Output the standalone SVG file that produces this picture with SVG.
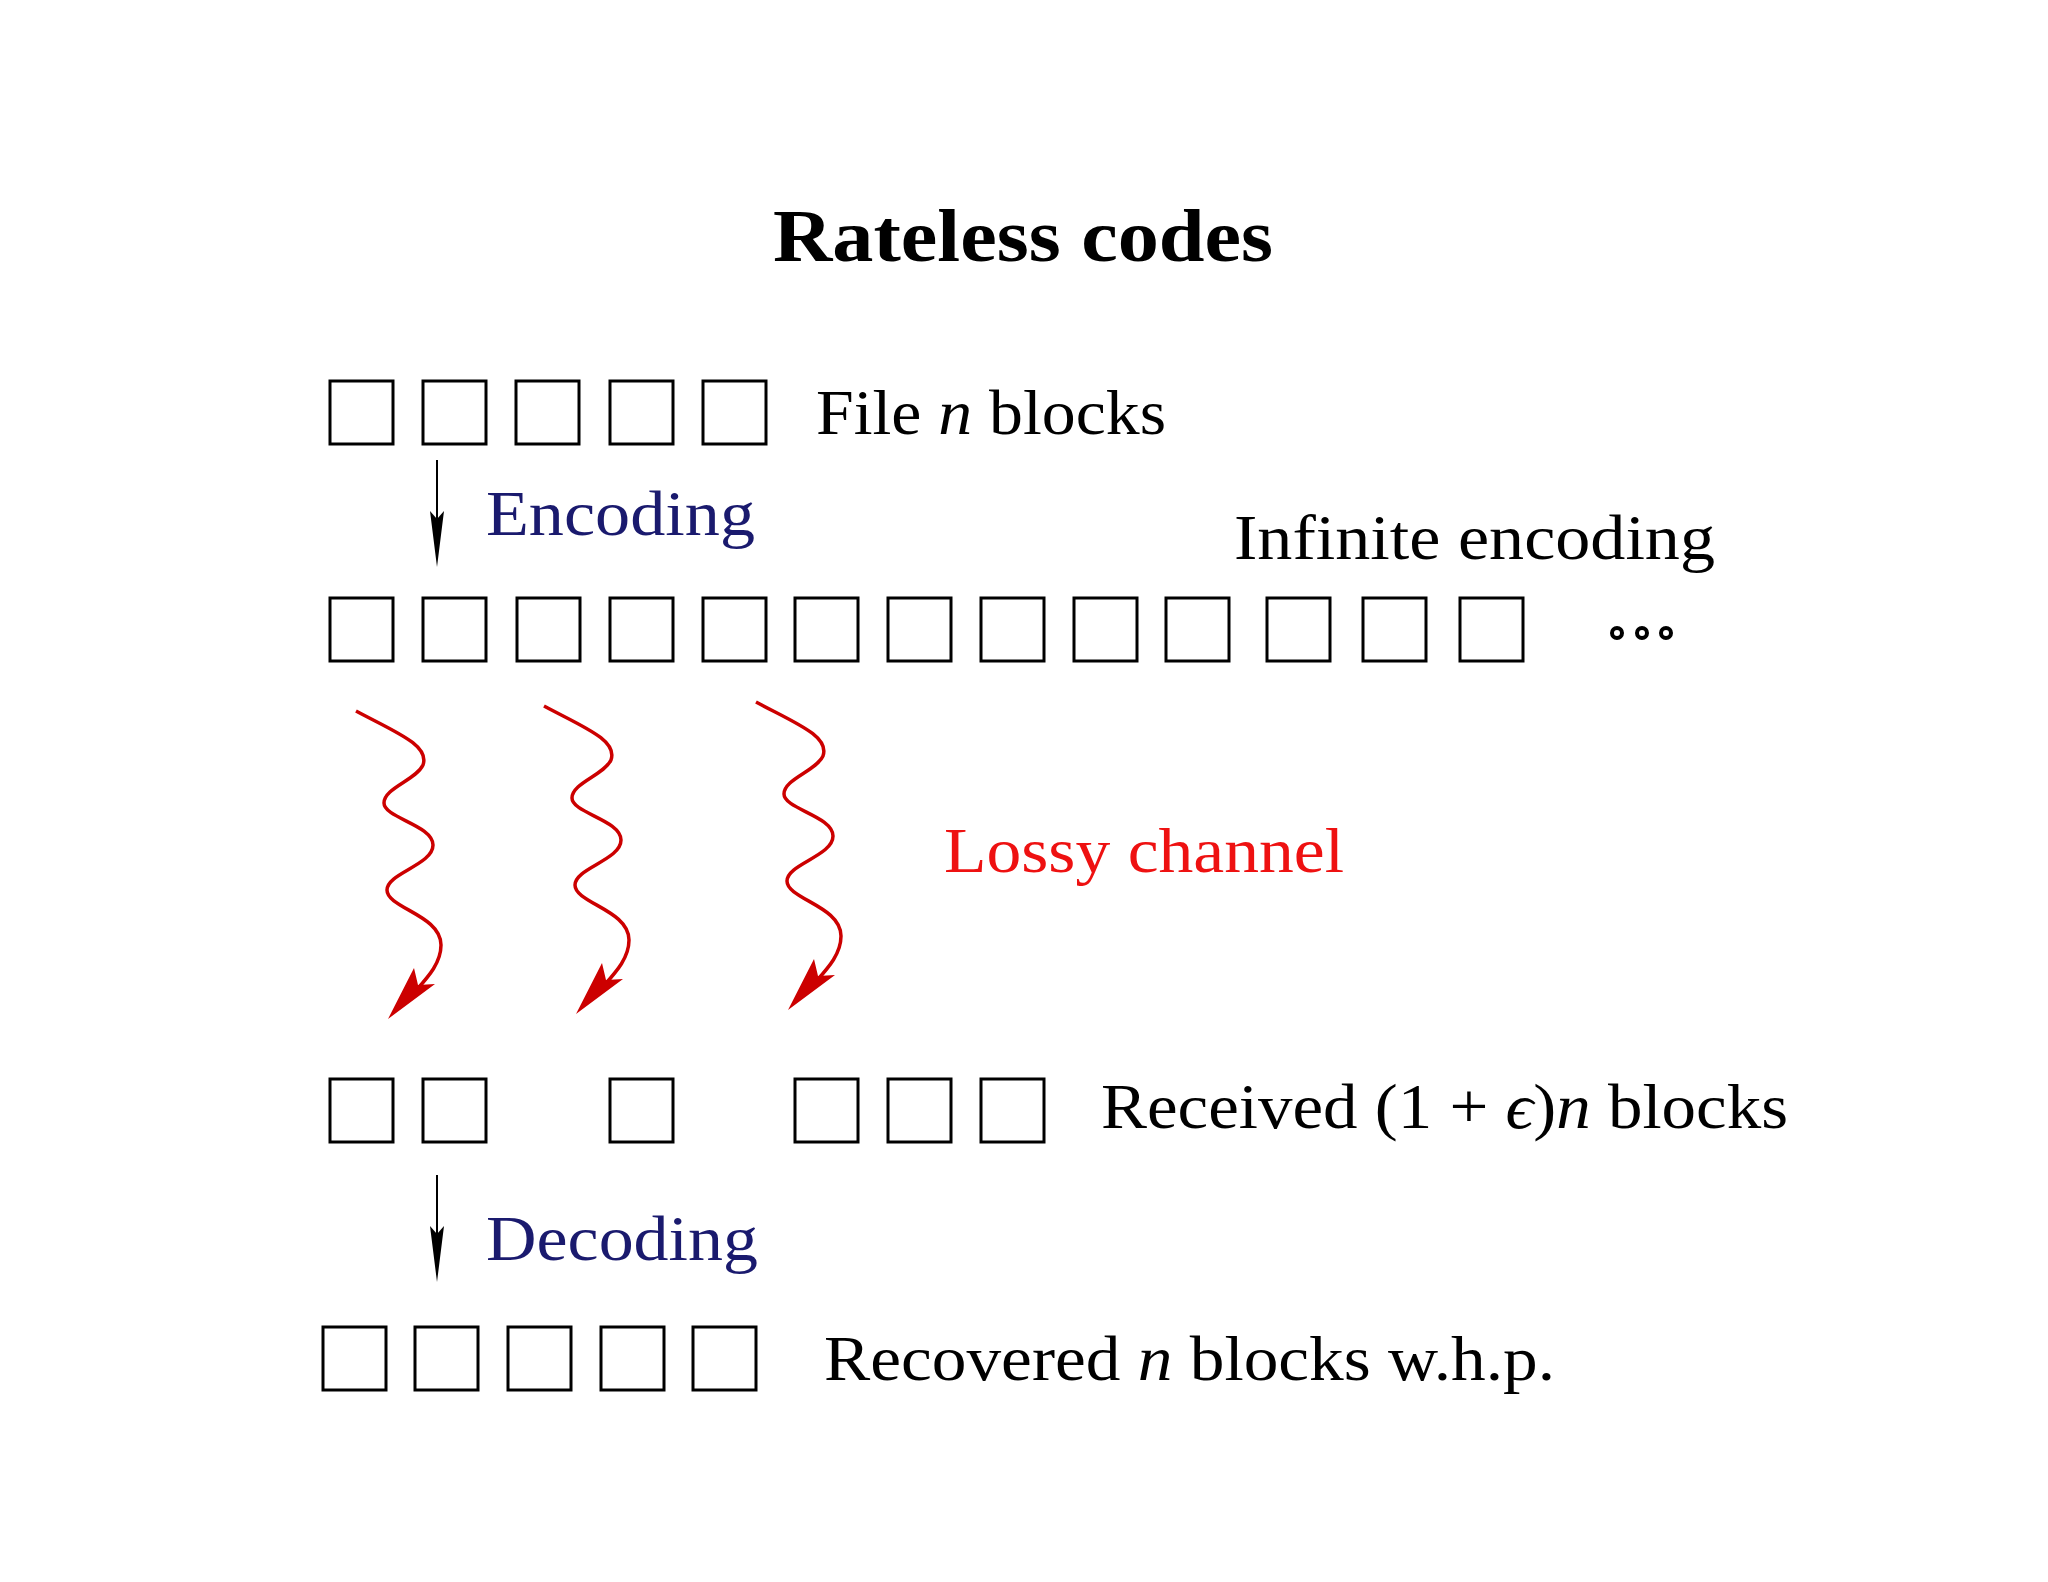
<svg xmlns="http://www.w3.org/2000/svg" width="2048" height="1582" viewBox="0 0 2048 1582">
<style>
.b{fill:none;stroke:#000;stroke-width:3}
.t{font-family:"Liberation Serif",serif;font-size:64px;fill:#000}
.i{font-style:italic}
.w{fill:none;stroke:#cc0000;stroke-width:3.5}
.h{fill:#cc0000}
.d{fill:#fff;stroke:#000;stroke-width:4}
</style>
<defs>
<marker id="ah" viewBox="0 0 14 56" refX="7" refY="56" markerWidth="14" markerHeight="56" markerUnits="userSpaceOnUse" orient="auto-start-reverse"><path d="M0,0 L7,8 L14,0 L7,56 Z" fill="#000" transform="rotate(0)"/></marker>
<g id="wv"><path class="w" d="M356,711 C395,732 430,745 423,765 C416,780 384,788 384,803 C384,818 433,825 433,845 C433,865 387,873 387,890 C387,908 441,915 441,945 C441,965 425,980 412,995"/><polygon class="h" points="388,1019 414,968 418,985 435,984"/></g>
<rect id="bx" width="63" height="63" class="b"/>
</defs>
<rect width="2048" height="1582" fill="#fff"/>
<text x="1023" y="261" text-anchor="middle" textLength="500" lengthAdjust="spacingAndGlyphs" style="font-family:'Liberation Serif',serif;font-size:74px;font-weight:bold">Rateless codes</text>
<g id="row1"><use href="#bx" x="330" y="381"/><use href="#bx" x="423" y="381"/><use href="#bx" x="516" y="381"/><use href="#bx" x="610" y="381"/><use href="#bx" x="703" y="381"/></g>
<text class="t" x="816" y="434" textLength="350" lengthAdjust="spacingAndGlyphs">File <tspan class="i">n</tspan> blocks</text>
<g id="row2"><use href="#bx" x="330" y="598"/><use href="#bx" x="423" y="598"/><use href="#bx" x="517" y="598"/><use href="#bx" x="610" y="598"/><use href="#bx" x="703" y="598"/><use href="#bx" x="795" y="598"/><use href="#bx" x="888" y="598"/><use href="#bx" x="981" y="598"/><use href="#bx" x="1074" y="598"/><use href="#bx" x="1166" y="598"/><use href="#bx" x="1267" y="598"/><use href="#bx" x="1363" y="598"/><use href="#bx" x="1460" y="598"/>
<circle class="d" cx="1617" cy="633" r="5"/><circle class="d" cx="1642" cy="633" r="5"/><circle class="d" cx="1666" cy="633" r="5"/></g>
<text class="t" x="1234" y="559" textLength="481" lengthAdjust="spacingAndGlyphs">Infinite encoding</text>
<g id="row3"><use href="#bx" x="330" y="1079"/><use href="#bx" x="423" y="1079"/><use href="#bx" x="610" y="1079"/><use href="#bx" x="795" y="1079"/><use href="#bx" x="888" y="1079"/><use href="#bx" x="981" y="1079"/></g>
<text class="t" x="1101" y="1128" textLength="687" lengthAdjust="spacingAndGlyphs">Received (1 + <tspan class="i">ϵ</tspan>)<tspan class="i">n</tspan> blocks</text>
<g id="row4"><use href="#bx" x="323" y="1327"/><use href="#bx" x="415" y="1327"/><use href="#bx" x="508" y="1327"/><use href="#bx" x="601" y="1327"/><use href="#bx" x="693" y="1327"/></g>
<text class="t" x="824" y="1380" textLength="731" lengthAdjust="spacingAndGlyphs">Recovered <tspan class="i">n</tspan> blocks w.h.p.</text>
<g id="connectors">
<line x1="437" y1="460" x2="437" y2="525" stroke="#000" stroke-width="2"/>
<polygon points="430,511 437,519 444,511 437,567" fill="#000"/>
<line x1="437" y1="1175" x2="437" y2="1240" stroke="#000" stroke-width="2"/>
<polygon points="430,1226 437,1234 444,1226 437,1282" fill="#000"/>
<use href="#wv"/><use href="#wv" x="188" y="-5"/><use href="#wv" x="400" y="-9"/>
</g>
<text class="t" x="486" y="535" style="fill:#1a1a6e" textLength="269" lengthAdjust="spacingAndGlyphs">Encoding</text>
<text class="t" x="486" y="1260" style="fill:#1a1a6e" textLength="272" lengthAdjust="spacingAndGlyphs">Decoding</text>
<text class="t" x="944" y="872" style="fill:#ee1111" textLength="400" lengthAdjust="spacingAndGlyphs">Lossy channel</text>
</svg>
